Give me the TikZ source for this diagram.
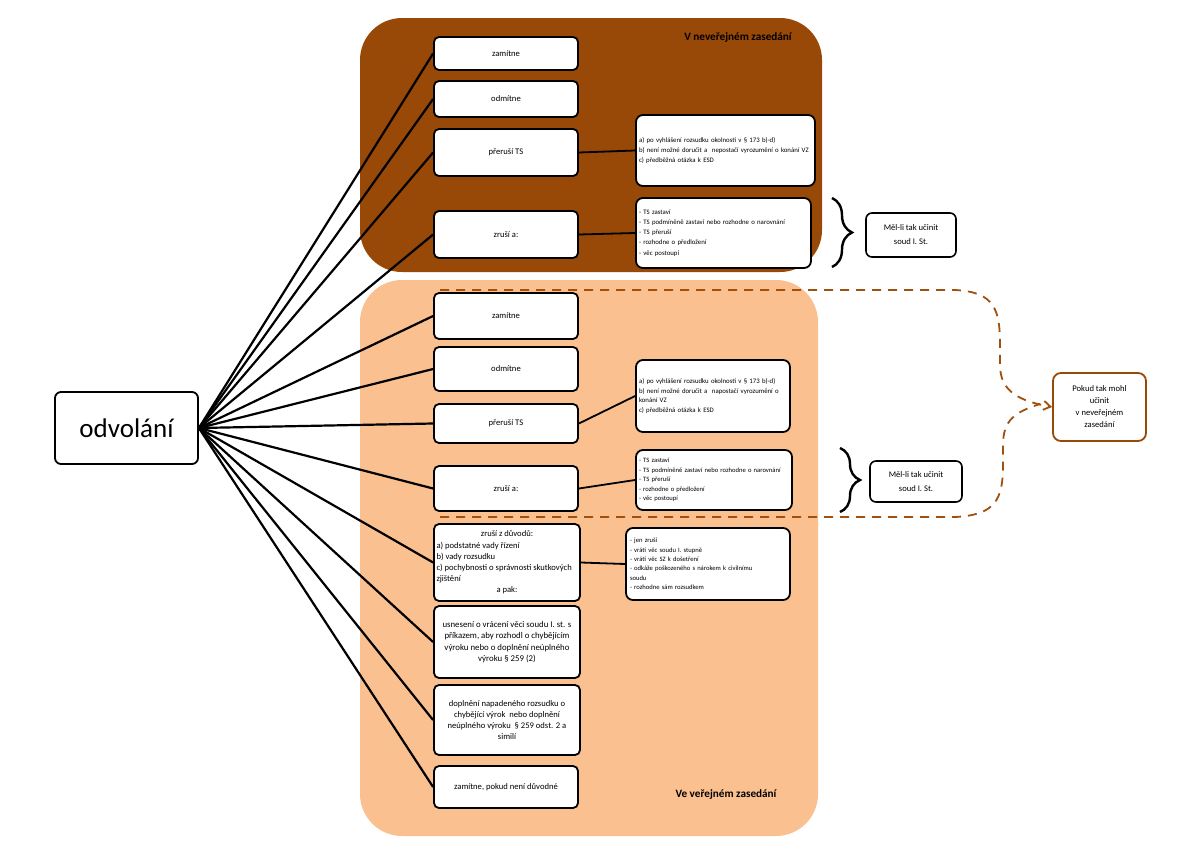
\documentclass[tikz,border=0pt]{standalone}
\usepackage{fontspec}
\setmainfont{Carlito}
\usetikzlibrary{decorations.pathreplacing,arrows.meta}
\definecolor{darkbrown}{HTML}{984807}
\definecolor{peach}{HTML}{FAC090}
\definecolor{dashbr}{HTML}{A0500F}
\newcommand{\myleftrow}[1]{\makebox[141pt][l]{#1}}
\tikzset{
  lbox/.style={draw=black, line width=1.8pt, rounded corners=5pt, fill=white, align=center, inner sep=2pt, font=\fontsize{8.6}{11}\selectfont},
  rbox/.style={draw=black, line width=1.8pt, rounded corners=7pt, fill=white, align=left, inner sep=3pt, font=\fontsize{6.8}{10.2}\selectfont},
  fan/.style={line width=2.2pt, black},
  conn/.style={line width=1.8pt, black},
  bracestyle/.style={line width=2.4pt, decorate, decoration={brace, amplitude=20pt}},
  dashbrown/.style={draw=dashbr, line width=1.8pt, dash pattern=on 9pt off 7pt},
  region/.style={rounded corners=42pt},
  title/.style={font=\fontsize{11.2}{13}\selectfont\bfseries},
  mbox/.style={draw=black, line width=1.6pt, rounded corners=6pt, align=center, font=\fontsize{8.6}{14}\selectfont}
}
\begin{document}
\begin{tikzpicture}[x=1pt,y=-1pt]
\useasboundingbox (0,0) rectangle (1200,849);
% regions
\fill[darkbrown, region] (360,18) rectangle (822,272);
\fill[peach, region] (360,280) rectangle (818,836);
\node[title] (t1) at (738,38) {V neveřejném zasedání};
\node[title] (t2) at (726,795) {Ve veřejném zasedání};
% root
\node[draw=black, line width=1.8pt, rounded corners=6pt, fill=white, minimum width=143pt, minimum height=72pt, font=\fontsize{27}{32}\selectfont] (odv) at (126.5,428) {odvolání};
% left boxes
\node[lbox, minimum width=144pt, minimum height=33pt] (b1) at (506,53.5) {zamítne};
\node[lbox, minimum width=144pt, minimum height=36pt] (b2) at (506,99) {odmítne};
\node[lbox, minimum width=144pt, minimum height=47pt] (b3) at (506,152.5) {přeruší TS};
\node[lbox, minimum width=144pt, minimum height=47pt] (b4) at (506,234.5) {zruší a:};
\node[lbox, minimum width=144pt, minimum height=46pt] (b5) at (506,316) {zamítne};
\node[lbox, minimum width=144pt, minimum height=44pt] (b6) at (506,369) {odmítne};
\node[lbox, minimum width=144pt, minimum height=39pt] (b7) at (506,423.5) {přeruší TS};
\node[lbox, minimum width=144pt, minimum height=45pt] (b8) at (506,488.5) {zruší a:};
\node[lbox, minimum width=146pt, minimum height=77pt, font=\fontsize{8.6}{11.2}\selectfont] (b9) at (507,562.5) {zruší z důvodů:\\
\myleftrow{a) podstatné vady řízení}\\
\myleftrow{b) vady rozsudku}\\
\myleftrow{c) pochybnosti o správnosti skutkových}\\
\myleftrow{zjištění}\\
a pak:};
\node[lbox, minimum width=146pt, minimum height=72pt, font=\fontsize{8.8}{11.3}\selectfont] (b10) at (507,642) {usnesení o vrácení věci soudu I. st. s\\ příkazem, aby rozhodl o chybějícím\\ výroku nebo o doplnění neúplného\\ výroku § 259 (2)};
\node[lbox, minimum width=146pt, minimum height=70pt, font=\fontsize{8.6}{11}\selectfont] (b11) at (507,720) {doplnění napadeného rozsudku o\\ chybějící výrok\ \ nebo doplnění\\ neúplného výroku\ \ § 259 odst. 2 a\\ similí};
\node[lbox, minimum width=144pt, minimum height=42pt] (b12) at (506,787) {zamítne, pokud není důvodné};
% fan
\foreach \b in {b1,b2,b3,b4,b5,b6,b7,b8,b9,b10,b11,b12}
  \draw[fan] (odv.east) -- (\b.west);
% right boxes
\node[rbox, minimum width=179pt, minimum height=71pt, text width=173pt] (ra) at (725.5,150.5) {a) po vyhlášení rozsudku okolností v § 173 b)-d)\\ b) není možné doručit a\ \ nepostačí vyrozumění o konání VZ\\ c) předběžná otázka k ESD};
\node[rbox, minimum width=175pt, minimum height=70pt, text width=169pt] (rb) at (723.5,233) {- TS zastaví\\ - TS podmíněně zastaví nebo rozhodne o narovnání\\ - TS přeruší\\ - rozhodne o předložení\\ - věc postoupí};
\node[rbox, minimum width=154pt, minimum height=72pt, text width=148pt, font=\fontsize{6.8}{9.8}\selectfont] (rc) at (713,396) {a) po vyhlášení rozsudku okolností v § 173 b)-d)\\ b) není možné doručit a\ \ napostačí vyrozumění o\\ konání VZ\\ c) předběžná otázka k ESD};
\node[rbox, minimum width=156pt, minimum height=60pt, text width=150pt, font=\fontsize{6.6}{9.6}\selectfont] (rd) at (714,480) {- TS zastaví\\ - TS podmíněně zastaví nebo rozhodne o narovnání\\ - TS přeruší\\ - rozhodne o předložení\\ - věc postoupí};
\node[rbox, minimum width=164pt, minimum height=72pt, text width=156pt, font=\fontsize{6.6}{9.4}\selectfont] (re) at (708,564) {- jen zruší\\ - vrátí věc soudu I. stupně\\ - vrátí věc SZ k došetření\\ - odkáže poškozeného s nárokem k civilnímu\\ soudu\\ - rozhodne sám rozsudkem};
% connectors
\draw[conn] (b3.east) -- (ra.west);
\draw[conn] (b4.east) -- (rb.west);
\draw[conn] (b7.east) -- (rc.west);
\draw[conn] (b8.east) -- (rd.west);
\draw[conn] (b9.east) -- (re.west);
% braces
\draw[bracestyle] (832,198) -- (832,267);
\draw[bracestyle] (840,448) -- (840,512);
\node[mbox, minimum width=90pt, minimum height=44pt] (m1) at (911,235) {Měl-li tak učinit\\ soud I. St.};
\node[mbox, minimum width=92pt, minimum height=41pt] (m2) at (916,481.5) {Měl-li tak učinit\\ soud I. St.};
% Pokud box
\node[draw=darkbrown, line width=1.8pt, rounded corners=8pt, minimum width=93pt, minimum height=68pt, align=center, font=\fontsize{8.6}{12}\selectfont] (pok) at (1099.5,407) {Pokud tak mohl\\ učinit\\ v neveřejném\\ zasedání};
\coordinate (d1) at (440,290);
\coordinate (d2) at (440,517);
\draw[dashbrown, -{Straight Barb[length=7pt,width=9pt]}] (d1) -- (955,290) .. controls (995,292) and (1000,310) .. (1000,345) -- (1000,365) .. controls (1000,392) and (1020,401) .. (pok.west);
\draw[dashbrown] (d2) -- (955,517) .. controls (995,515) and (1003,500) .. (1003,465) -- (1003,445) .. controls (1003,420) and (1015,412) .. (1040,404);
\end{tikzpicture}
\end{document}
